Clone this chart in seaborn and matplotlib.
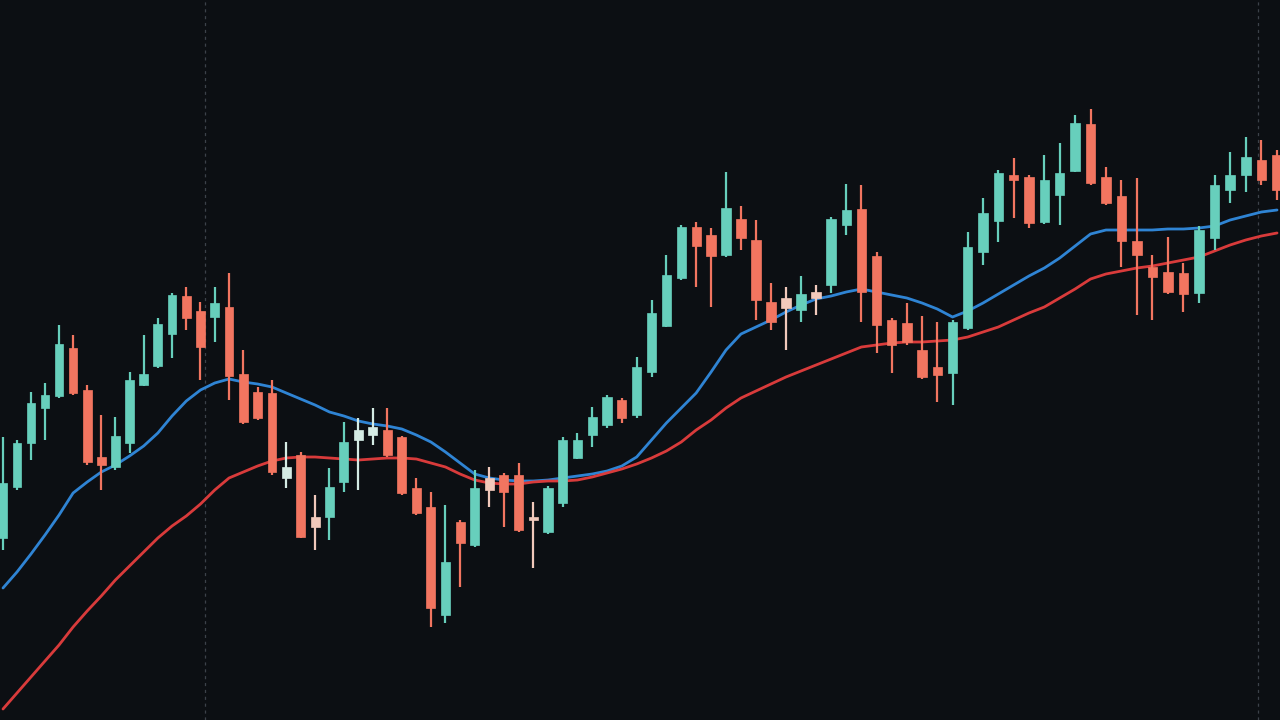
import numpy as np
import pandas as pd
import matplotlib
matplotlib.use("Agg")
import matplotlib.pyplot as plt
import seaborn as sns

# candle data (price units, arbitrary scale)
opens = [118.2, 123.3, 127.7, 131.2, 132.4, 137.2, 133.0, 126.3, 125.3, 127.7,
         133.5, 135.4, 138.6, 142.4, 140.9, 140.3, 141.3, 134.6, 132.8, 132.7,
         124.2, 126.5, 120.3, 120.3, 123.8, 128.0, 128.5, 129.0, 128.3, 123.2,
         121.3, 110.5, 119.8, 117.5, 124.2, 124.5, 124.5, 120.3, 118.8, 121.7,
         126.2, 128.5, 129.5, 132.0, 130.5, 134.8, 139.4, 144.2, 149.3, 148.5,
         146.5, 150.1, 148.0, 141.8, 142.2, 141.0, 142.8, 143.5, 149.5, 151.1,
         146.4, 140.0, 139.7, 137.0, 135.3, 134.7, 139.2, 146.8, 149.9, 154.5,
         154.3, 149.8, 152.5, 154.9, 159.6, 154.3, 152.4, 147.9, 145.3, 144.8,
         144.7, 142.7, 148.2, 153.0, 154.5, 156.0, 156.5]
highs = [128.3, 128.0, 132.8, 133.7, 139.5, 138.5, 133.5, 130.5, 130.3, 134.8,
         138.5, 140.2, 142.7, 143.3, 141.8, 143.3, 144.7, 137.0, 133.3, 134.0,
         127.8, 126.8, 122.5, 125.2, 129.8, 130.2, 131.2, 131.2, 128.4, 124.2,
         122.8, 121.5, 120.0, 125.0, 125.3, 124.7, 125.7, 121.8, 123.4, 128.3,
         128.7, 131.3, 132.5, 132.2, 136.3, 142.0, 146.5, 149.5, 149.8, 149.2,
         154.8, 151.4, 150.0, 143.7, 143.3, 144.4, 143.5, 150.3, 153.6, 153.5,
         146.8, 140.2, 141.7, 140.4, 139.8, 140.0, 148.8, 152.2, 155.0, 156.2,
         154.5, 156.5, 157.7, 160.5, 161.1, 155.3, 154.0, 154.2, 146.5, 148.3,
         145.7, 149.4, 154.5, 156.8, 158.3, 158.0, 157.0]
lows = [117.0, 123.0, 126.0, 128.0, 132.2, 132.5, 125.5, 123.0, 125.0, 126.7,
        133.4, 135.2, 136.2, 139.0, 134.0, 137.8, 132.0, 129.6, 130.0, 124.5,
        123.2, 118.2, 117.0, 118.0, 122.8, 123.0, 127.5, 126.3, 122.5, 120.5,
        109.3, 109.7, 113.3, 117.3, 121.3, 119.3, 118.8, 115.2, 118.6, 121.3,
        126.1, 127.3, 129.2, 129.7, 130.2, 134.3, 139.3, 144.0, 143.3, 141.3,
        146.3, 147.0, 140.0, 139.0, 137.0, 139.8, 140.5, 142.7, 148.5, 139.8,
        136.7, 134.7, 137.5, 134.1, 131.8, 131.5, 139.0, 145.5, 147.8, 150.2,
        149.2, 149.6, 149.5, 154.8, 153.5, 151.5, 145.3, 140.5, 140.0, 142.6,
        140.8, 141.7, 147.0, 151.7, 152.8, 153.5, 152.0]
closes = [123.7, 127.7, 131.7, 132.5, 137.6, 132.7, 125.8, 125.5, 128.4, 134.0,
          134.6, 139.6, 142.5, 140.2, 137.3, 141.7, 134.4, 129.8, 130.2, 124.8,
          125.3, 118.3, 119.3, 123.3, 127.8, 129.0, 129.3, 126.5, 122.7, 120.7,
          111.2, 115.8, 117.7, 123.2, 123.0, 122.8, 119.0, 120.0, 123.2, 128.0,
          128.0, 130.3, 132.3, 130.2, 135.3, 140.7, 144.5, 149.3, 147.4, 146.4,
          151.2, 148.2, 142.0, 139.8, 141.2, 142.6, 142.2, 150.1, 151.0, 142.8,
          139.5, 137.5, 137.8, 134.3, 134.5, 139.8, 147.3, 150.7, 154.7, 154.0,
          149.7, 154.0, 154.7, 159.7, 153.7, 151.7, 147.9, 146.5, 144.3, 142.8,
          142.6, 149.0, 153.5, 154.5, 156.3, 154.0, 153.0]

# candles drawn in the washed-out tone (near-doji bars)
pale_idx = [20, 22, 25, 26, 34, 37, 54, 56]

# moving averages as they appear on the chart
ma_fast = [113.2, 114.8, 116.6, 118.5, 120.5, 122.7, 123.8, 124.8, 125.5, 126.4,
           127.4, 128.7, 130.4, 131.9, 133.0, 133.7, 134.1, 133.8, 133.6, 133.3,
           132.7, 132.1, 131.5, 130.8, 130.4, 129.9, 129.6, 129.4, 129.1, 128.5,
           127.8, 126.8, 125.7, 124.6, 124.2, 124.0, 123.9, 123.9, 124.0, 124.2,
           124.4, 124.6, 124.9, 125.4, 126.3, 128.0, 129.7, 131.2, 132.7, 134.8,
           137.0, 138.6, 139.3, 140.0, 140.8, 141.5, 142.1, 142.4, 142.8, 143.1,
           142.8, 142.5, 142.2, 141.7, 141.1, 140.3, 140.9, 141.7, 142.6, 143.5,
           144.4, 145.2, 146.2, 147.4, 148.6, 149.0, 149.0, 149.0, 149.0, 149.1,
           149.1, 149.2, 149.4, 150.0, 150.4, 150.8, 151.0]
ma_slow = [101.1, 102.7, 104.3, 105.9, 107.5, 109.3, 110.9, 112.4, 114.0, 115.4,
           116.8, 118.2, 119.4, 120.4, 121.6, 123.0, 124.2, 124.8, 125.4, 125.9,
           126.2, 126.3, 126.3, 126.2, 126.1, 126.0, 126.1, 126.2, 126.2, 126.1,
           125.7, 125.3, 124.6, 124.0, 123.7, 123.6, 123.6, 123.8, 123.9, 123.9,
           124.0, 124.3, 124.7, 125.1, 125.6, 126.2, 126.9, 127.8, 129.0, 130.0,
           131.2, 132.2, 132.9, 133.6, 134.3, 134.9, 135.5, 136.1, 136.7, 137.3,
           137.5, 137.7, 137.8, 137.8, 137.9, 138.0, 138.3, 138.8, 139.3, 140.0,
           140.7, 141.3, 142.2, 143.1, 144.1, 144.6, 144.9, 145.2, 145.4, 145.7,
           146.0, 146.3, 146.9, 147.5, 148.0, 148.4, 148.7]

session_breaks = [14.3, 84.8]

# colours
BG = "#0c0f13"
UP = "#67cfbc"
DOWN = "#f27560"
UP_PALE = "#d4ebe4"
DOWN_PALE = "#f1c9bb"

df = pd.DataFrame({"o": opens, "h": highs, "l": lows, "c": closes})
df["i"] = np.arange(len(df))
df["up"] = df["c"] >= df["o"]
df["col"] = np.where(df["up"], UP, DOWN)
for k in pale_idx:
    df.loc[k, "col"] = UP_PALE if df.loc[k, "up"] else DOWN_PALE

ma = pd.DataFrame({
    "i": np.tile(df["i"].values, 2),
    "v": ma_fast + ma_slow,
    "ma": ["fast"] * len(ma_fast) + ["slow"] * len(ma_slow),
})

sns.set_theme(style="dark", rc={"axes.facecolor": BG, "figure.facecolor": BG})

fig = plt.figure(figsize=(12.8, 7.2), dpi=100)
ax = fig.add_axes([0, 0, 1, 1])

# the screenshot is taken at a slight angle, candles spread out to the right
WB, WC = 13.97, 0.00983
ax.set_xscale("function", functions=(
    lambda x: WB * x + WC * x ** 2,
    lambda u: (-WB + np.sqrt(np.maximum(WB ** 2 + 4 * WC * u, 0))) / (2 * WC),
))

for xb in session_breaks:
    ax.axvline(xb, color="#3c424a", lw=0.9, ls=(0, (2.5, 3)), zorder=1)

sns.lineplot(data=ma, x="i", y="v", hue="ma",
             palette={"fast": "#2f84d4", "slow": "#d93b3b"},
             linewidth=2.0, legend=False, ax=ax, zorder=2)

ax.vlines(df["i"], df["l"], df["h"], colors=df["col"], lw=1.6, zorder=3)
bottom = df[["o", "c"]].min(axis=1)
height = (df["c"] - df["o"]).abs().clip(lower=0.25)
ax.bar(df["i"], height, bottom=bottom, width=0.62, color=df["col"],
       edgecolor=df["col"], linewidth=0.5, zorder=4)

ax.set_xlim(-0.215, 86.19)
ax.set_ylim(100, 172)
ax.set_xticks([])
ax.set_yticks([])
ax.set_xlabel("")
ax.set_ylabel("")
ax.grid(False)
for s in ax.spines.values():
    s.set_visible(False)

fig.savefig("out.png", dpi=100, facecolor=BG)
